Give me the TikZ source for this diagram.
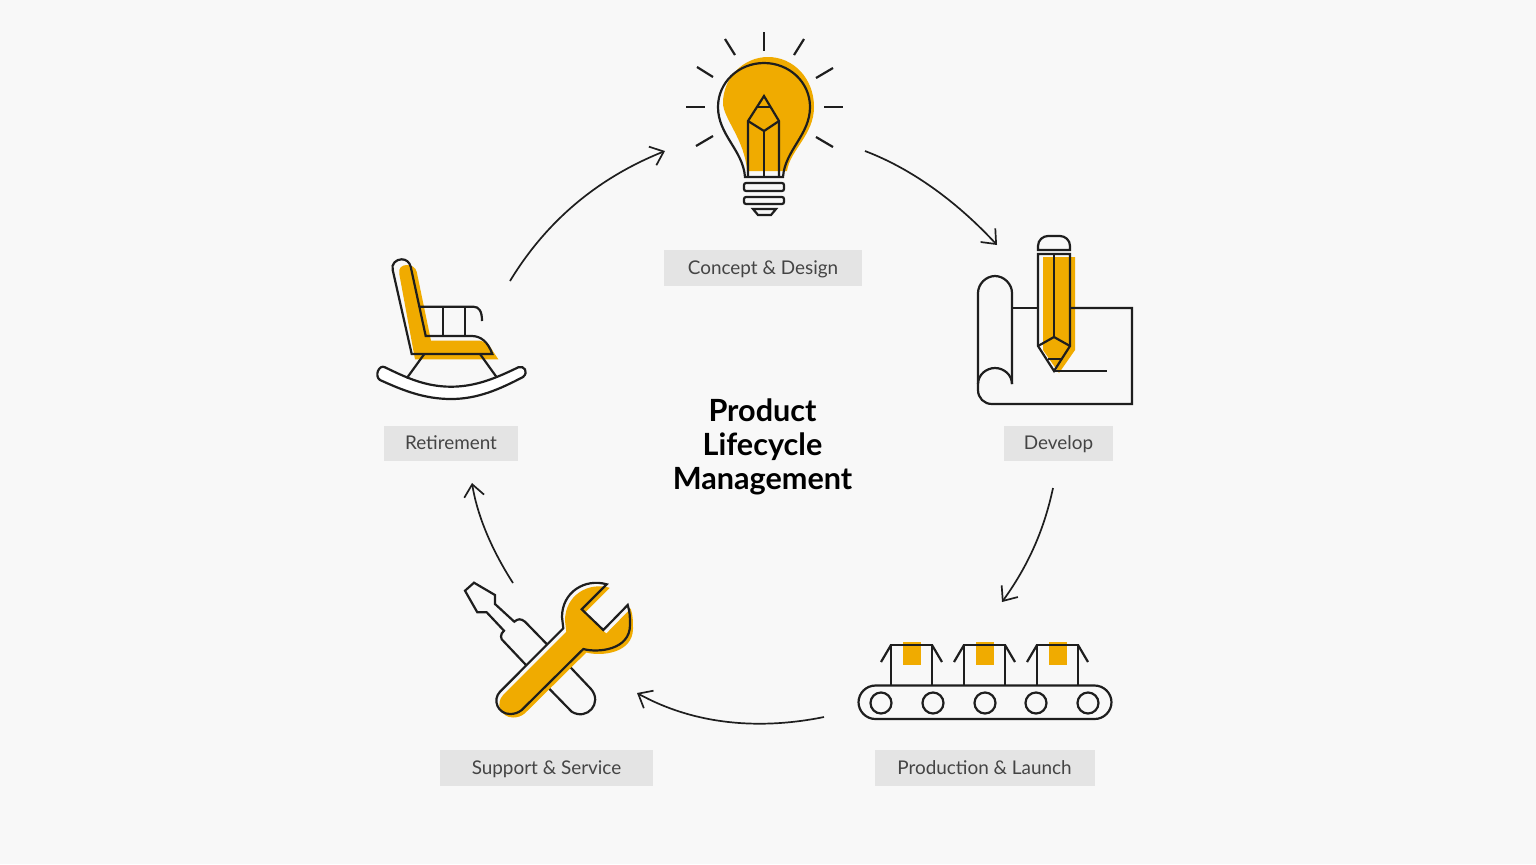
\documentclass[tikz,border=0pt]{standalone}
\usepackage{fontspec}
\setmainfont{Lato}
\usetikzlibrary{arrows.meta}
\definecolor{bgc}{HTML}{F8F8F8}
\definecolor{gold}{HTML}{F0AB00}
\definecolor{ink}{HTML}{1E1E1E}
\definecolor{lab}{HTML}{E4E4E4}
\definecolor{labtext}{HTML}{444444}
\tikzset{
  ln/.style={draw=ink,line width=1.1pt,line join=miter},
  gf/.style={fill=gold,draw=none},
  labelbox/.style={fill=lab,draw=none,inner sep=0pt,text=labtext,text height=8pt,text depth=1.8pt,font=\fontsize{9.45}{12}\selectfont},
  flow/.style={draw=ink,line width=0.85pt,-{Straight Barb[length=6pt,width=10pt,line width=0.85pt]}},
}
\begin{document}
\begin{tikzpicture}[x=0.5pt,y=-0.5pt]
\useasboundingbox (0,0) rectangle (1536,864);
\fill[bgc] (0,0) rectangle (1536,864);

% --- Bulb
\fill[gf] (723,103) .. controls (723,78) and (743,57) .. (768,57) .. controls (793,57) and (814,78) .. (814,107)
  .. controls (814,135) and (790,150) .. (787,171)
  -- (747,171) .. controls (745,140) and (723,118) .. (723,103) -- cycle;
\draw[ln] (745,177) .. controls (743,150) and (718,135) .. (718,107) .. controls (718,82) and (739,63) .. (764,63)
  .. controls (789,63) and (810,82) .. (810,107) .. controls (810,135) and (785,150) .. (783,177) -- cycle;
\draw[ln] (748,177) -- (748,121) -- (764,96) -- (779,121) -- (779,177);
\draw[ln] (748,121) -- (764,131) -- (779,121);
\draw[ln] (764,131) -- (764,177);
\draw[ln] (757,107) -- (771,107);
\draw[ln,rounded corners=1pt] (744,183) rectangle (784,191);
\draw[ln,rounded corners=1pt] (744,197) rectangle (784,204);
\draw[ln] (753,209) -- (776,209) -- (771,215) -- (758,215) -- cycle;
\foreach \a/\b/\c/\d in {764/32/764/51,725/39/735/55,804/39/794/55,697/67/713/77,833/68/816/78,686/107/705/107,824/107/843/107,696/146/713/136,833/147/816/137}
  \draw[ln] (\a,\b) -- (\c,\d);

% --- Develop
\fill[gf] (1043,257) -- (1075,257) -- (1075,350) -- (1059,373) -- (1043,350) -- cycle;
\draw[ln] (1038,250) -- (1038,246) .. controls (1038,240) and (1043,236) .. (1048,236) -- (1060,236)
  .. controls (1065,236) and (1070,240) .. (1070,246) -- (1070,250) -- cycle;
\draw[ln] (1038,346) -- (1038,254) -- (1070,254) -- (1070,346) -- (1054,371) -- cycle;
\draw[ln] (1038,346) -- (1054,337) -- (1070,346);
\draw[ln] (1054,254) -- (1054,337);
\draw[ln] (1048,359) -- (1061,359);
\draw[ln] (1054,371) -- (1107,371);
\draw[ln] (1012,308) -- (1038,308);
\draw[ln] (1070,308) -- (1132,308) -- (1132,404) -- (992,404) .. controls (984,404) and (978,398) .. (978,390)
  -- (978,293) .. controls (978,284) and (986,276) .. (995,276) .. controls (1004,276) and (1012,284) .. (1012,293) -- (1012,384);
\draw[ln] (978,384) .. controls (978,375) and (986,368) .. (995,368) .. controls (1004,368) and (1012,375) .. (1012,384);

% --- Conveyor
\foreach \x in {903,976,1049} \fill[gf] (\x,642) rectangle ++(17.5,23);
\draw[ln,rounded corners=8.5pt] (858.5,685.5) rectangle (1111.5,719);
\foreach \x in {881,933,985,1036,1088} \draw[ln] (\x,703) circle (10.5);
\foreach \x in {891,964,1037} {
  \draw[ln] (\x,685) -- (\x,645) -- ++(41,0) -- ++(0,40);
  \draw[ln] (\x,645) -- ++(-10,17);
  \draw[ln] (\x+41,645) -- ++(10,17);
}

% --- Tools
\draw[ln] (546.7,644) -- (525,621.7) .. controls (521,618.5) and (518,618.5) .. (514.3,621.7) -- (495,604) -- (495,595) -- (474,582.7) -- (465,590.7)
  -- (477.3,612.3) -- (486.7,612.3) -- (504,630.7) .. controls (500,634) and (500,639) .. (504,641.7) -- (526,665);
\draw[ln] (568.3,665) -- (591,689) .. controls (603,703) and (587,721) .. (571.7,711.7) -- (547.3,686.7);
\def\wrenchpath{(606.7,584.3) .. controls (585,578) and (562,592) .. (562,617) -- (563.3,628.3) -- (500,691.7)
  .. controls (492,700) and (498,714) .. (510,714) .. controls (514,714) and (518,713) .. (521.7,710) -- (583.3,649)
  .. controls (598,653) and (630,650) .. (630,625) .. controls (630,618) and (630,612) .. (627.7,605) -- (603.3,630) -- (581.7,609.3) -- cycle}
\fill[gf,shift={(3,3.5)}] \wrenchpath;
\draw[ln,fill=none] \wrenchpath;

% --- Chair
\fill[gf] (399.3,274) .. controls (398,268) and (402,265) .. (406.7,265) .. controls (411,265) and (415.5,267) .. (416.7,271.7)
  -- (431,340.7) -- (480,340.7) .. controls (486,342) and (488,344) .. (490,346.7) -- (498.3,359.3) -- (415,359.3) -- cycle;
\draw[ln,fill=white] (385,367.3) .. controls (405,377) and (425,386.7) .. (451,386.7) .. controls (477,386.7) and (498,377) .. (518.3,367.3)
  .. controls (524,365) and (529,372) .. (523,377) .. controls (500,389) and (478,399) .. (451,399)
  .. controls (424,399) and (402,390) .. (380,380) .. controls (374,376) and (379,364) .. (385,367.3) -- cycle;
\draw[ln] (424.3,354) -- (406.7,378.3);
\draw[ln] (480,354) -- (496.7,377.3);
\draw[ln] (411.7,354) -- (392.7,270) .. controls (391,264) and (396,259.3) .. (401.7,259.3) .. controls (406,259.3) and (409.5,262) .. (410.7,266.7)
  -- (425.7,336) -- (471.7,336) .. controls (481,336) and (488,342) .. (492.3,354) -- cycle;
\draw[ln] (420,306.7) -- (473.3,306.7) .. controls (479,306.7) and (482,311) .. (482,321);
\draw[ln] (443.3,306.7) -- (443.3,336);
\draw[ln] (464.7,306.7) -- (464.7,336);

% --- Labels
\node[labelbox,minimum width=99pt,minimum height=18pt] (concept) at (763,268) {Concept \& Design};
\node[labelbox,minimum width=54.5pt,minimum height=17.5pt] (develop) at (1058.5,443.5) {Develop};
\node[labelbox,minimum width=110pt,minimum height=18pt] (production) at (984.5,768) {Production \& Launch};
\node[labelbox,minimum width=106.5pt,minimum height=18pt] (support) at (546.5,768) {Support \& Service};
\node[labelbox,minimum width=67pt,minimum height=17.5pt] (retirement) at (451,443.5) {Retirement};
\node[align=center,text=black,inner sep=0pt,font=\fontsize{15.3}{16.9}\selectfont\bfseries] (title) at (762.5,447) {Product\\Lifecycle\\Management};

% --- Flow arrows
\coordinate (a1) at (865,151); \coordinate (b1) at (997,245);
\coordinate (a2) at (1053,488); \coordinate (b2) at (1002,602);
\coordinate (a3) at (824,717); \coordinate (b3) at (637,693);
\coordinate (a4) at (513,583); \coordinate (b4) at (472,483);
\coordinate (a5) at (510,281); \coordinate (b5) at (665,151);
\draw[flow] (a1) .. controls (915,170) and (960,205) .. (b1);
\draw[flow] (a2) .. controls (1043,535) and (1025,570) .. (b2);
\draw[flow] (a3) .. controls (760,730) and (695,725) .. (b3);
\draw[flow] (a4) .. controls (495,555) and (478,520) .. (b4);
\draw[flow] (a5) .. controls (550,215) and (605,175) .. (b5);
\end{tikzpicture}
\end{document}
